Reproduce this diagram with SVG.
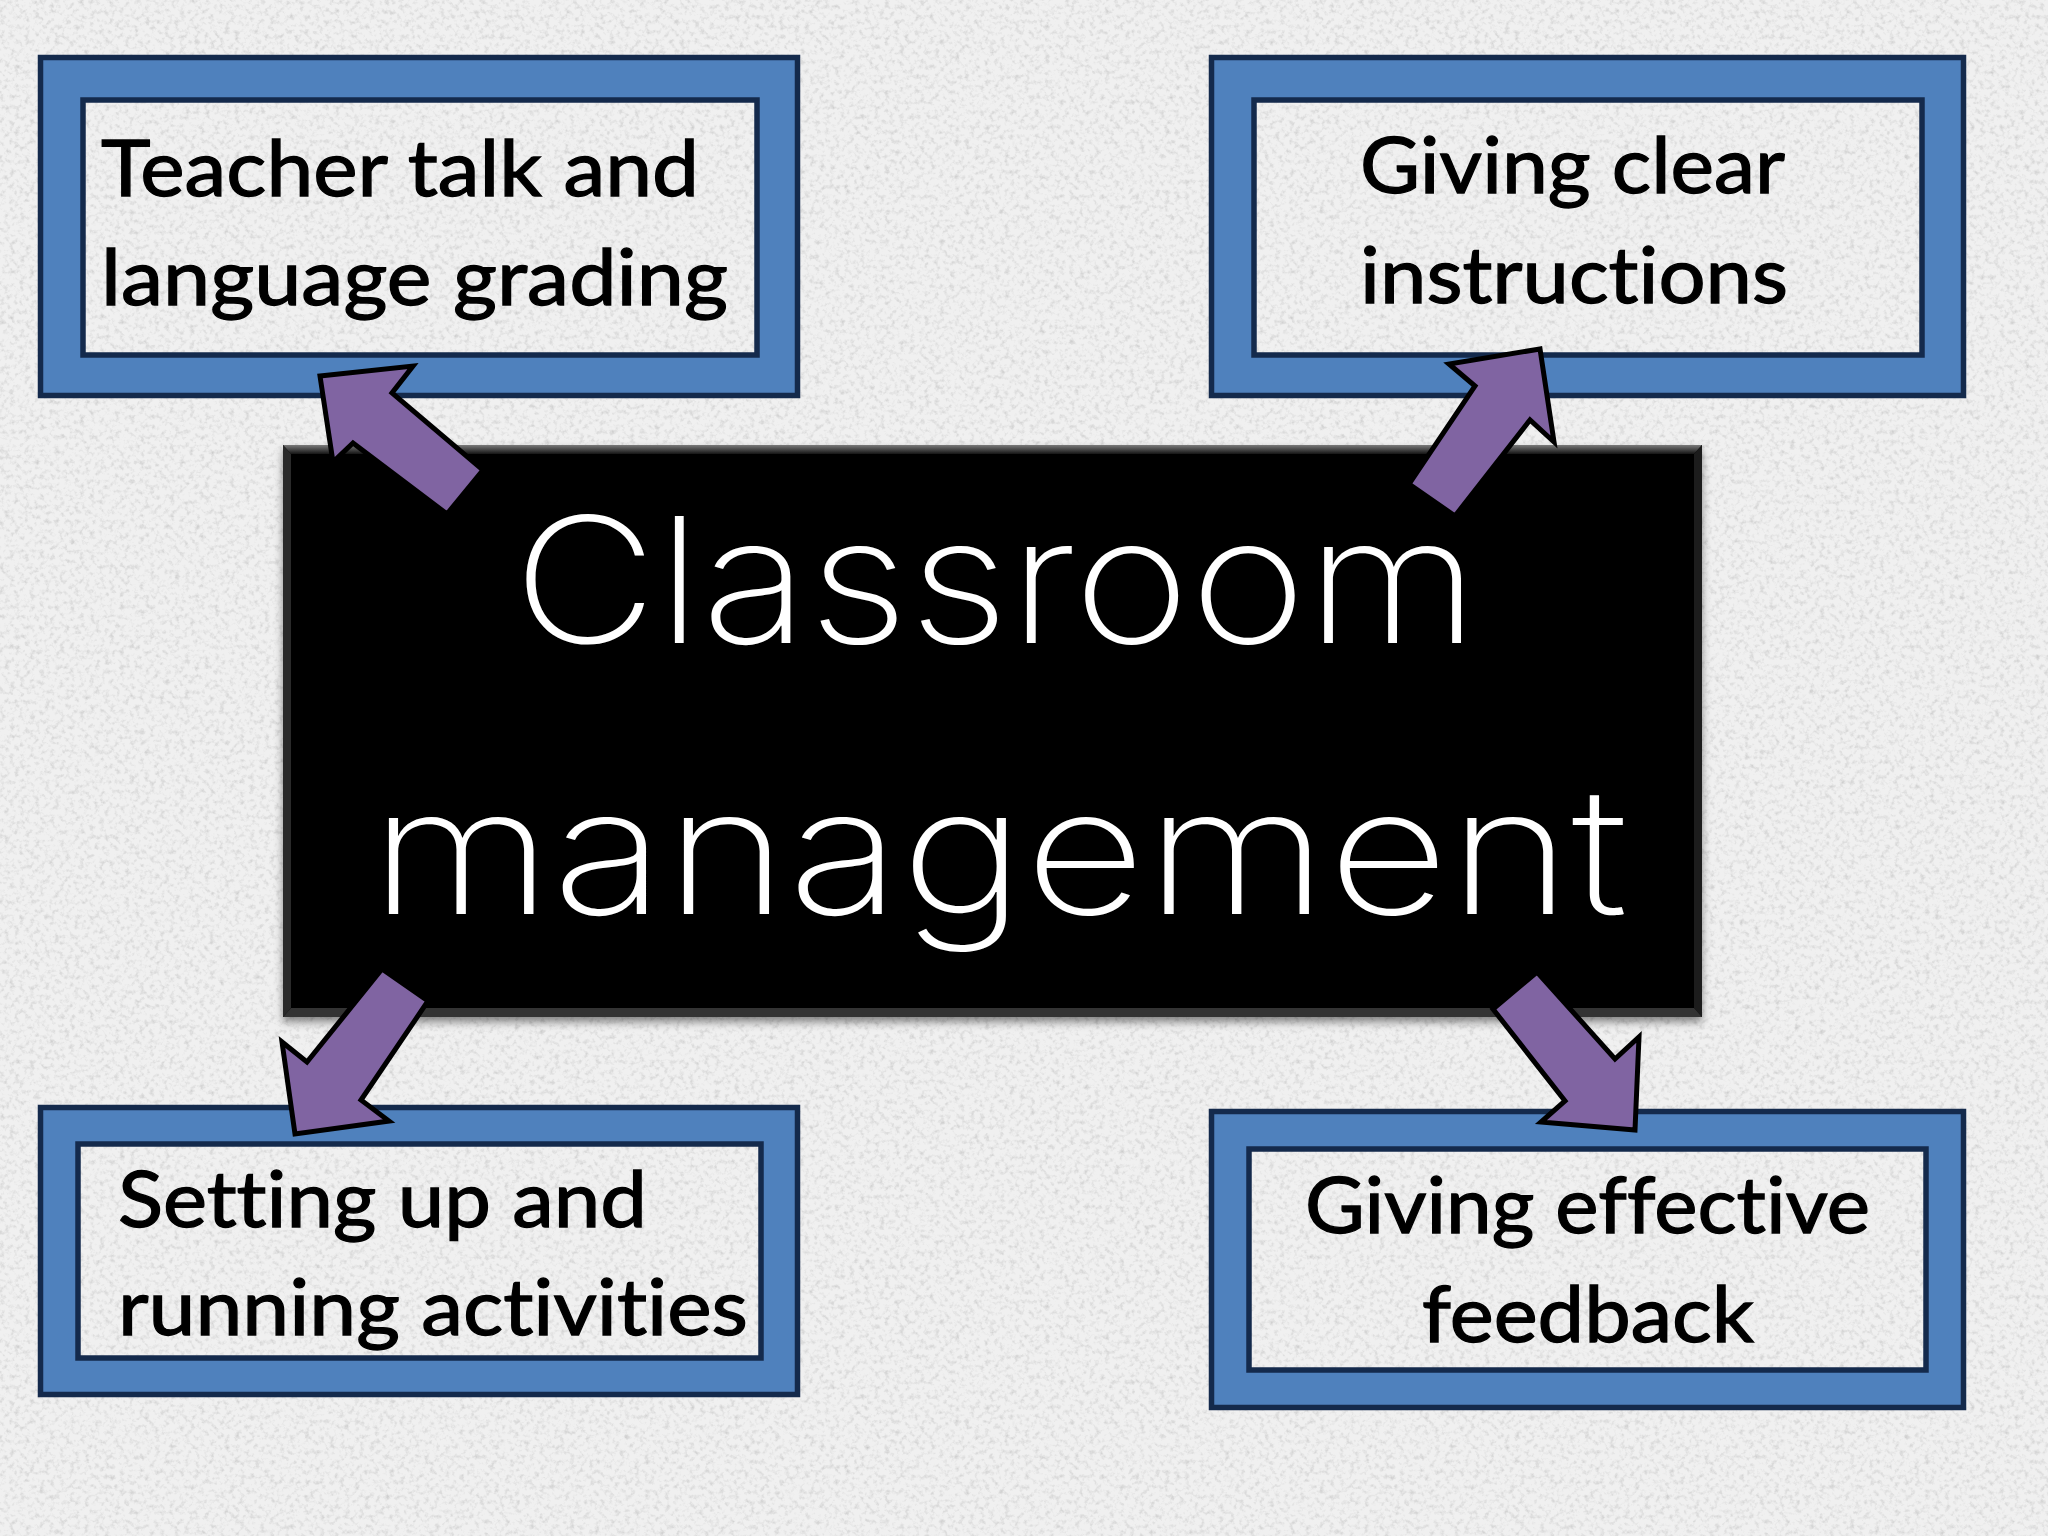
<svg xmlns="http://www.w3.org/2000/svg" width="2048" height="1536" viewBox="0 0 2048 1536">
  <defs>
    <filter id="grain" filterUnits="userSpaceOnUse" x="0" y="0" width="2048" height="1536">
      <feTurbulence type="fractalNoise" baseFrequency="0.2" numOctaves="3" seed="7" result="t"/>
      <feColorMatrix in="t" type="matrix" values="0 0 0 0 0.58  0 0 0 0 0.58  0 0 0 0 0.58  1.9 0 0 0 -0.9" result="n"/>
      <feComposite in="n" in2="SourceGraphic" operator="over"/>
    </filter>
    <filter id="shadow" x="-5%" y="-5%" width="110%" height="115%">
      <feDropShadow dx="0" dy="5" stdDeviation="4" flood-color="#000" flood-opacity="0.45"/>
    </filter>
    <linearGradient id="bevelTop" x1="0" y1="0" x2="0" y2="1">
      <stop offset="0" stop-color="#7a7a7a"/>
      <stop offset="1" stop-color="#151515"/>
    </linearGradient>
    <style>
      .frame { fill: #4F81BD; fill-rule: evenodd; stroke: #142a4c; stroke-width: 5.5; stroke-linejoin: miter; }
      .label { font-family: Lato, "Open Sans", "Liberation Sans", sans-serif; font-size: 78px; fill: #000; stroke: #000; stroke-width: 1.3; font-variant-ligatures: none; font-feature-settings: "liga" 0, "clig" 0; }
      .chalk { font-family: Inter, "DejaVu Sans", sans-serif; font-weight: 200; font-size: 175px; fill: #fff; text-anchor: middle; }
      .arrow { fill: #8064A2; stroke: #000; stroke-width: 5; stroke-linejoin: miter; }
    </style>
  </defs>

  <rect x="0" y="0" width="2048" height="1536" fill="#f0f0f0" filter="url(#grain)"/>

  <g id="node-center">
    <g filter="url(#shadow)">
      <rect x="283" y="445" width="1419" height="572" fill="#000"/>
    </g>
    <polygon points="283,445 1702,445 1694,454 291,454" fill="url(#bevelTop)"/>
    <polygon points="283,445 291,454 291,1008 283,1017" fill="#2a2a2a"/>
    <polygon points="1702,445 1702,1017 1694,1008 1694,454" fill="#1c1c1c"/>
    <polygon points="283,1017 291,1008 1694,1008 1702,1017" fill="#333"/>
    <text class="chalk" x="996" y="643" textLength="966" lengthAdjust="spacingAndGlyphs">Classroom</text>
    <text class="chalk" x="999" y="914" textLength="1258" lengthAdjust="spacingAndGlyphs">management</text>
  </g>

  <g id="node-teacher-talk">
    <path class="frame" d="M40.5,57.5 h757 v338 h-757 Z M83,100 h674 v255 h-674 Z"/>
    <text class="label" x="101" y="196" textLength="598" lengthAdjust="spacingAndGlyphs">Teacher talk and</text>
    <text class="label" x="101" y="305" textLength="627" lengthAdjust="spacingAndGlyphs">language grading</text>
  </g>

  <g id="node-instructions">
    <path class="frame" d="M1211.5,57.5 h752 v338 h-752 Z M1254,100 h668 v255 h-668 Z"/>
    <text class="label" x="1360" y="193" textLength="425" lengthAdjust="spacingAndGlyphs">Giving clear</text>
    <text class="label" x="1360" y="303" textLength="428" lengthAdjust="spacingAndGlyphs">instructions</text>
  </g>

  <g id="node-activities">
    <path class="frame" d="M40.5,1107.5 h757 v287 h-757 Z M78,1144 h683 v214 h-683 Z"/>
    <text class="label" x="118" y="1227" textLength="529" lengthAdjust="spacingAndGlyphs">Setting up and</text>
    <text class="label" x="118" y="1335" textLength="630" lengthAdjust="spacingAndGlyphs">running activities</text>
  </g>

  <g id="node-feedback">
    <path class="frame" d="M1211.5,1111.5 h752 v296 h-752 Z M1249,1149 h677 v221 h-677 Z"/>
    <text class="label" x="1305" y="1233" textLength="565" lengthAdjust="spacingAndGlyphs">Giving effective</text>
    <text class="label" x="1422" y="1342" textLength="332" lengthAdjust="spacingAndGlyphs">feedback</text>
  </g>

  <g id="connectors">
    <polygon class="arrow" points="320,376 413,366 392,393 483,470 447,514 353,443 333,462"/>
    <polygon class="arrow" points="1540,349 1449,364 1475,386 1409,484 1455,516 1530,420 1554,442"/>
    <polygon class="arrow" points="295,1134 282,1042 307,1062 382,969 428,1001 361,1100 389,1121"/>
    <polygon class="arrow" points="1635,1130 1639,1037 1615,1059 1537,972 1493,1009 1565,1101 1541,1122"/>
  </g>
</svg>
